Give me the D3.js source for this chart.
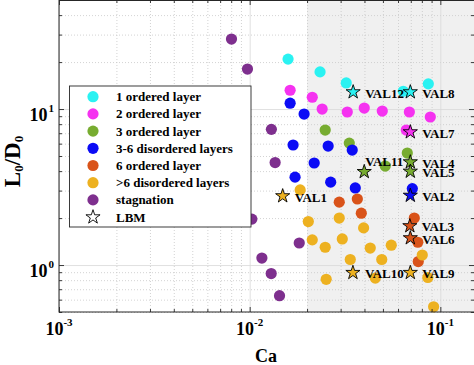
<!DOCTYPE html>
<html><head><meta charset="utf-8">
<script src="https://cdn.jsdelivr.net/npm/d3@7"></script>
<style>
body{margin:0;background:#fff}
svg{display:block}
text{font-family:"Liberation Serif","Times New Roman",serif;font-weight:bold;fill:#000}
</style>
</head><body><svg id="c" width="474" height="365"></svg>
<script>
// ---------- data ----------
const seriesNames = ["1 ordered layer","2 ordered layer","3 ordered layer","3-6 disordered layers","6 ordered layer",">6 disordered layers","stagnation"];
const seriesColors = ["#2af2f2","#f532f0","#77ac30","#0b0bf5","#d95319","#edb120","#7e2f8e"];
const oneOrdered   = [[0.0159,20.9],[0.0234,17.3],[0.0321,14.7],[0.0639,13.0],[0.0865,14.5]];
const twoOrdered   = [[0.0163,13.2],[0.0213,11.9],[0.0240,10.0],[0.0325,9.57],[0.0399,10.15],[0.0496,9.71],[0.0688,9.57],[0.0886,8.89],[0.0663,7.33]];
const threeOrdered = [[0.0249,7.33],[0.0333,6.05],[0.0671,5.22],[0.0514,4.31]];
const disord36     = [[0.0163,10.9],[0.0193,9.29],[0.0169,5.88],[0.0258,5.79],[0.0345,5.46],[0.0218,4.51],[0.0173,3.66],[0.0266,3.40],[0.0358,3.12],[0.0713,3.09]];
const sixOrdered   = [[0.0295,2.53],[0.0367,2.65],[0.0385,2.15],[0.0730,2.00],[0.0762,1.40],[0.0766,1.053]];
const disordGt6    = [[0.0184,3.03],[0.0203,1.90],[0.0295,2.00],[0.0396,1.73],[0.0213,1.45],[0.0249,1.30],[0.0306,1.47],[0.0429,1.285],[0.0553,1.34],[0.0804,1.16],[0.0337,1.085],[0.0493,1.085],[0.0252,0.810],[0.0456,0.825],[0.0860,0.832],[0.0922,0.540]];
const stagnation   = [[0.00803,28.1],[0.00974,18.05],[0.0130,7.41],[0.0136,4.54],[0.01027,1.97],[0.0182,1.384],[0.01159,1.109],[0.01297,0.882],[0.01434,0.636]];
const seriesData = [oneOrdered,twoOrdered,threeOrdered,disord36,sixOrdered,disordGt6,stagnation];

const lbmNames  = ["VAL1","VAL2","VAL3","VAL4","VAL5","VAL6","VAL7","VAL8","VAL9","VAL10","VAL11","VAL12"];
const lbmCa     = [0.0149,0.0696,0.0692,0.0696,0.0696,0.0696,0.0696,0.0696,0.0696,0.0348,0.0399,0.0349];
const lbmLD     = [2.77,2.79,1.78,4.57,3.98,1.49,7.12,12.85,0.893,0.893,3.96,12.85];
const lbmSeries = [5,3,4,2,2,4,1,0,5,5,2,0];
const lbmLabelSide = ["right","right","right","right","right","right","right","right","right","right","above","right"];

const xMajor = [1e-3,1e-2,1e-1];
const xMinor = [2e-3,3e-3,4e-3,5e-3,6e-3,7e-3,8e-3,9e-3,2e-2,3e-2,4e-2,5e-2,6e-2,7e-2,8e-2,9e-2];
const yMajor = [1,10];
const yMinor = [0.5,0.6,0.7,0.8,0.9,2,3,4,5,6,7,8,9,20,30,40,50];
const xTickBase = ["10","10","10"], xTickExp = ["-3","-2","-1"];
const yTickBase = ["10","10"], yTickExp = ["0","1"];
const xLimits = [1e-3,0.152], yLimits = [0.5,50];
const shadeFrom = 0.02;

// ---------- layout ----------
const L = 59, R = 475, T = 0, B = 312;
const svg = d3.select("#c");
const x = d3.scaleLog().domain(xLimits).range([L,R]);
const y = d3.scaleLog().domain(yLimits).range([B,T]);

// shaded region
svg.append("rect").attr("x",x(shadeFrom)).attr("y",T).attr("width",R-x(shadeFrom)).attr("height",B-T).attr("fill","#f0f0f0");

// grids
function grid(axisGen, tr, dash, col){
  const g = svg.append("g").attr("transform",tr).call(axisGen);
  g.select(".domain").remove();
  g.selectAll("text").remove();
  g.selectAll("line").attr("stroke",col).attr("stroke-width",0.8).attr("stroke-dasharray",dash);
}
grid(d3.axisBottom(x).tickValues(xMinor).tickSize(-(B-T)).tickFormat(""),`translate(0,${B})`,"1,2","#c8c8c8");
grid(d3.axisLeft(y).tickValues(yMinor).tickSize(-(R-L)).tickFormat(""),`translate(${L},0)`,"1,2","#c8c8c8");
grid(d3.axisBottom(x).tickValues(xMajor).tickSize(-(B-T)).tickFormat(""),`translate(0,${B})`,null,"#d8d8d8");
grid(d3.axisLeft(y).tickValues(yMajor).tickSize(-(R-L)).tickFormat(""),`translate(${L},0)`,null,"#d8d8d8");

// data circles
seriesData.forEach((pts,i)=>{
  svg.append("g").selectAll("circle").data(pts).enter().append("circle")
    .attr("cx",d=>x(d[0])).attr("cy",d=>y(d[1])).attr("r",5.6)
    .attr("fill",seriesColors[i]);
});

// LBM stars
const star = d3.symbol().type(d3.symbolStar).size(62);
const stars = lbmNames.map((n,i)=>({name:n,ca:lbmCa[i],ld:lbmLD[i],s:lbmSeries[i],side:lbmLabelSide[i]}));
svg.append("g").selectAll("path").data(stars).enter().append("path")
  .attr("d",star).attr("transform",d=>`translate(${x(d.ca)},${y(d.ld)})`)
  .attr("fill",d=>seriesColors[d.s]).attr("stroke","#000").attr("stroke-width",0.9);
svg.append("g").selectAll("text").data(stars).enter().append("text")
  .attr("x",d=>x(d.ca)+(d.side==="above"?1:12))
  .attr("y",d=>y(d.ld)+(d.side==="above"?-5.5:5.5))
  .attr("font-size",13).text(d=>d.name);

// axes box + ticks
function ticks(axisGen, tr){
  const g = svg.append("g").attr("transform",tr).call(axisGen);
  g.select(".domain").remove();
  g.selectAll("text").remove();
  g.selectAll("line").attr("stroke","#262626").attr("stroke-width",0.9);
}
ticks(d3.axisBottom(x).tickValues(xMajor).tickSize(-5),`translate(0,${B})`);
ticks(d3.axisBottom(x).tickValues(xMinor).tickSize(-3),`translate(0,${B})`);
ticks(d3.axisTop(x).tickValues(xMajor).tickSize(-5),`translate(0,${T})`);
ticks(d3.axisTop(x).tickValues(xMinor).tickSize(-3),`translate(0,${T})`);
ticks(d3.axisLeft(y).tickValues(yMajor).tickSize(-5),`translate(${L},0)`);
ticks(d3.axisLeft(y).tickValues(yMinor).tickSize(-3),`translate(${L},0)`);
ticks(d3.axisRight(y).tickValues(yMajor).tickSize(-5),`translate(${R-1},0)`);
ticks(d3.axisRight(y).tickValues(yMinor).tickSize(-3),`translate(${R-1},0)`);
svg.append("rect").attr("x",L).attr("y",T+0.5).attr("width",R-L).attr("height",B-T-0.5)
  .attr("fill","none").attr("stroke","#262626").attr("stroke-width",1);

// tick labels
xMajor.forEach((v,i)=>{
  const t = svg.append("text").attr("x",x(v)).attr("y",335).attr("text-anchor","middle").attr("font-size",18);
  t.append("tspan").text(xTickBase[i]);
  t.append("tspan").attr("font-size",11).attr("dy",-9).text(xTickExp[i]);
});
yMajor.forEach((v,i)=>{
  const t = svg.append("text").attr("x",54).attr("y",y(v)+11.5).attr("text-anchor","end").attr("font-size",18);
  t.append("tspan").text(yTickBase[i]);
  t.append("tspan").attr("font-size",11).attr("dy",-9).attr("dx",1).text(yTickExp[i]);
});

// axis titles
svg.append("text").attr("x",266).attr("y",362).attr("text-anchor","middle").attr("font-size",18).text("Ca");
const yl = svg.append("text").attr("transform","translate(20,161.5) rotate(-90)").attr("text-anchor","middle").attr("font-size",23);
yl.append("tspan").text("L");
yl.append("tspan").attr("font-size",13).attr("dy",3).text("0");
yl.append("tspan").attr("dy",-3).text("/D");
yl.append("tspan").attr("font-size",13).attr("dy",3).text("0");

// legend
const lg = svg.append("g");
lg.append("rect").attr("x",69.5).attr("y",86).attr("width",181.5).attr("height",141)
  .attr("fill","#fff").attr("stroke","#262626").attr("stroke-width",0.9);
const rowY = i => 96.7 + i*17.2;
seriesNames.forEach((n,i)=>{
  lg.append("circle").attr("cx",93).attr("cy",rowY(i)).attr("r",5.6).attr("fill",seriesColors[i]);
  lg.append("text").attr("x",116).attr("y",rowY(i)+4.5).attr("font-size",13).text(n);
});
lg.append("path").attr("d",star).attr("transform",`translate(93,${rowY(7)})`)
  .attr("fill","#fff").attr("stroke","#000").attr("stroke-width",0.9);
lg.append("text").attr("x",116).attr("y",rowY(7)+4.5).attr("font-size",13).text("LBM");
</script></body></html>
